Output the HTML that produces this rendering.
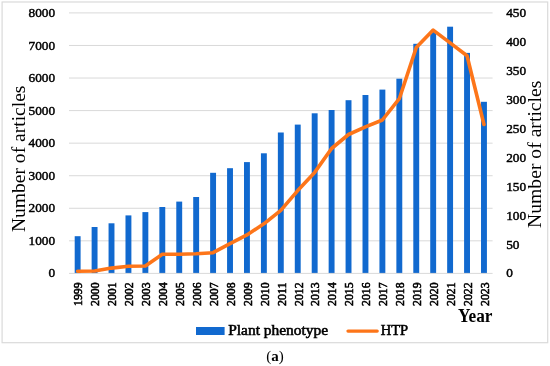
<!DOCTYPE html>
<html><head><meta charset="utf-8"><style>
html,body{margin:0;padding:0;background:#fff;}
body{width:550px;height:366px;overflow:hidden;}
svg{display:block;}
text{font-family:"Liberation Serif",serif;fill:#000;}
.tl{font-size:13.1px;stroke:#000;stroke-width:0.45px;}
.xl{font-size:12.6px;stroke:#000;stroke-width:0.58px;}
.yt{font-size:18.5px;}
.yr{font-size:18.5px;font-weight:bold;}
.lg{font-size:14px;stroke:#000;stroke-width:0.55px;}
.cap{font-size:15px;}
</style></head><body>
<svg width="550" height="366" viewBox="0 0 550 366">
<rect x="2.1" y="2.0" width="545.6" height="340.7" fill="none" stroke="#dadada" stroke-width="1.2"/>
<line x1="69.0" y1="240.84" x2="492.6" y2="240.84" stroke="#d9d9d9" stroke-width="1"/>
<line x1="69.0" y1="208.28" x2="492.6" y2="208.28" stroke="#d9d9d9" stroke-width="1"/>
<line x1="69.0" y1="175.72" x2="492.6" y2="175.72" stroke="#d9d9d9" stroke-width="1"/>
<line x1="69.0" y1="143.16" x2="492.6" y2="143.16" stroke="#d9d9d9" stroke-width="1"/>
<line x1="69.0" y1="110.60" x2="492.6" y2="110.60" stroke="#d9d9d9" stroke-width="1"/>
<line x1="69.0" y1="78.04" x2="492.6" y2="78.04" stroke="#d9d9d9" stroke-width="1"/>
<line x1="69.0" y1="45.48" x2="492.6" y2="45.48" stroke="#d9d9d9" stroke-width="1"/>
<line x1="69.0" y1="12.92" x2="492.6" y2="12.92" stroke="#d9d9d9" stroke-width="1"/>
<rect x="74.70" y="236.20" width="5.9" height="37.20" fill="#1169cf"/>
<rect x="91.63" y="227.00" width="5.9" height="46.40" fill="#1169cf"/>
<rect x="108.56" y="223.30" width="5.9" height="50.10" fill="#1169cf"/>
<rect x="125.49" y="215.40" width="5.9" height="58.00" fill="#1169cf"/>
<rect x="142.42" y="212.10" width="5.9" height="61.30" fill="#1169cf"/>
<rect x="159.35" y="207.00" width="5.9" height="66.40" fill="#1169cf"/>
<rect x="176.28" y="201.60" width="5.9" height="71.80" fill="#1169cf"/>
<rect x="193.21" y="197.00" width="5.9" height="76.40" fill="#1169cf"/>
<rect x="210.14" y="172.80" width="5.9" height="100.60" fill="#1169cf"/>
<rect x="227.07" y="168.20" width="5.9" height="105.20" fill="#1169cf"/>
<rect x="244.00" y="162.10" width="5.9" height="111.30" fill="#1169cf"/>
<rect x="260.93" y="153.30" width="5.9" height="120.10" fill="#1169cf"/>
<rect x="277.86" y="132.50" width="5.9" height="140.90" fill="#1169cf"/>
<rect x="294.79" y="124.60" width="5.9" height="148.80" fill="#1169cf"/>
<rect x="311.72" y="113.30" width="5.9" height="160.10" fill="#1169cf"/>
<rect x="328.65" y="110.00" width="5.9" height="163.40" fill="#1169cf"/>
<rect x="345.58" y="100.20" width="5.9" height="173.20" fill="#1169cf"/>
<rect x="362.51" y="95.00" width="5.9" height="178.40" fill="#1169cf"/>
<rect x="379.44" y="89.60" width="5.9" height="183.80" fill="#1169cf"/>
<rect x="396.37" y="78.70" width="5.9" height="194.70" fill="#1169cf"/>
<rect x="413.30" y="43.80" width="5.9" height="229.60" fill="#1169cf"/>
<rect x="430.23" y="32.00" width="5.9" height="241.40" fill="#1169cf"/>
<rect x="447.16" y="26.70" width="5.9" height="246.70" fill="#1169cf"/>
<rect x="464.09" y="52.90" width="5.9" height="220.50" fill="#1169cf"/>
<rect x="481.02" y="101.80" width="5.9" height="171.60" fill="#1169cf"/>
<line x1="69.0" y1="273.40" x2="492.6" y2="273.40" stroke="#d9d9d9" stroke-width="1"/>
<polyline points="77.65,271.30 94.58,271.00 111.51,268.10 128.44,266.20 145.37,266.00 162.30,254.30 179.23,254.30 196.16,253.80 213.09,252.70 230.02,243.60 246.95,234.90 263.88,223.80 280.81,210.30 297.74,190.60 314.67,172.40 331.60,148.50 348.53,134.50 365.46,126.80 382.39,120.00 399.32,98.70 416.25,47.60 433.18,30.10 450.11,42.90 467.04,55.80 483.97,124.50" fill="none" stroke="#fd7519" stroke-width="3.6" stroke-linejoin="round" stroke-linecap="round"/>
<text x="48.45" y="277.48" class="tl" textLength="6.65" lengthAdjust="spacingAndGlyphs">0</text>
<text x="28.50" y="244.92" class="tl" textLength="26.60" lengthAdjust="spacingAndGlyphs">1000</text>
<text x="28.50" y="212.36" class="tl" textLength="26.60" lengthAdjust="spacingAndGlyphs">2000</text>
<text x="28.50" y="179.80" class="tl" textLength="26.60" lengthAdjust="spacingAndGlyphs">3000</text>
<text x="28.50" y="147.24" class="tl" textLength="26.60" lengthAdjust="spacingAndGlyphs">4000</text>
<text x="28.50" y="114.68" class="tl" textLength="26.60" lengthAdjust="spacingAndGlyphs">5000</text>
<text x="28.50" y="82.12" class="tl" textLength="26.60" lengthAdjust="spacingAndGlyphs">6000</text>
<text x="28.50" y="49.56" class="tl" textLength="26.60" lengthAdjust="spacingAndGlyphs">7000</text>
<text x="28.50" y="17.00" class="tl" textLength="26.60" lengthAdjust="spacingAndGlyphs">8000</text>
<text x="506.2" y="277.48" class="tl" textLength="6.65" lengthAdjust="spacingAndGlyphs">0</text>
<text x="506.2" y="248.54" class="tl" textLength="13.30" lengthAdjust="spacingAndGlyphs">50</text>
<text x="506.2" y="219.60" class="tl" textLength="19.95" lengthAdjust="spacingAndGlyphs">100</text>
<text x="506.2" y="190.65" class="tl" textLength="19.95" lengthAdjust="spacingAndGlyphs">150</text>
<text x="506.2" y="161.71" class="tl" textLength="19.95" lengthAdjust="spacingAndGlyphs">200</text>
<text x="506.2" y="132.77" class="tl" textLength="19.95" lengthAdjust="spacingAndGlyphs">250</text>
<text x="506.2" y="103.83" class="tl" textLength="19.95" lengthAdjust="spacingAndGlyphs">300</text>
<text x="506.2" y="74.88" class="tl" textLength="19.95" lengthAdjust="spacingAndGlyphs">350</text>
<text x="506.2" y="45.94" class="tl" textLength="19.95" lengthAdjust="spacingAndGlyphs">400</text>
<text x="506.2" y="17.00" class="tl" textLength="19.95" lengthAdjust="spacingAndGlyphs">450</text>
<text transform="translate(82.45,305.9) rotate(-90)" class="xl" textLength="23.4" lengthAdjust="spacingAndGlyphs">1999</text>
<text transform="translate(99.38,305.9) rotate(-90)" class="xl" textLength="23.4" lengthAdjust="spacingAndGlyphs">2000</text>
<text transform="translate(116.31,305.9) rotate(-90)" class="xl" textLength="23.4" lengthAdjust="spacingAndGlyphs">2001</text>
<text transform="translate(133.24,305.9) rotate(-90)" class="xl" textLength="23.4" lengthAdjust="spacingAndGlyphs">2002</text>
<text transform="translate(150.17,305.9) rotate(-90)" class="xl" textLength="23.4" lengthAdjust="spacingAndGlyphs">2003</text>
<text transform="translate(167.10,305.9) rotate(-90)" class="xl" textLength="23.4" lengthAdjust="spacingAndGlyphs">2004</text>
<text transform="translate(184.03,305.9) rotate(-90)" class="xl" textLength="23.4" lengthAdjust="spacingAndGlyphs">2005</text>
<text transform="translate(200.96,305.9) rotate(-90)" class="xl" textLength="23.4" lengthAdjust="spacingAndGlyphs">2006</text>
<text transform="translate(217.89,305.9) rotate(-90)" class="xl" textLength="23.4" lengthAdjust="spacingAndGlyphs">2007</text>
<text transform="translate(234.82,305.9) rotate(-90)" class="xl" textLength="23.4" lengthAdjust="spacingAndGlyphs">2008</text>
<text transform="translate(251.75,305.9) rotate(-90)" class="xl" textLength="23.4" lengthAdjust="spacingAndGlyphs">2009</text>
<text transform="translate(268.68,305.9) rotate(-90)" class="xl" textLength="23.4" lengthAdjust="spacingAndGlyphs">2010</text>
<text transform="translate(285.61,305.9) rotate(-90)" class="xl" textLength="23.4" lengthAdjust="spacingAndGlyphs">2011</text>
<text transform="translate(302.54,305.9) rotate(-90)" class="xl" textLength="23.4" lengthAdjust="spacingAndGlyphs">2012</text>
<text transform="translate(319.47,305.9) rotate(-90)" class="xl" textLength="23.4" lengthAdjust="spacingAndGlyphs">2013</text>
<text transform="translate(336.40,305.9) rotate(-90)" class="xl" textLength="23.4" lengthAdjust="spacingAndGlyphs">2014</text>
<text transform="translate(353.33,305.9) rotate(-90)" class="xl" textLength="23.4" lengthAdjust="spacingAndGlyphs">2015</text>
<text transform="translate(370.26,305.9) rotate(-90)" class="xl" textLength="23.4" lengthAdjust="spacingAndGlyphs">2016</text>
<text transform="translate(387.19,305.9) rotate(-90)" class="xl" textLength="23.4" lengthAdjust="spacingAndGlyphs">2017</text>
<text transform="translate(404.12,305.9) rotate(-90)" class="xl" textLength="23.4" lengthAdjust="spacingAndGlyphs">2018</text>
<text transform="translate(421.05,305.9) rotate(-90)" class="xl" textLength="23.4" lengthAdjust="spacingAndGlyphs">2019</text>
<text transform="translate(437.98,305.9) rotate(-90)" class="xl" textLength="23.4" lengthAdjust="spacingAndGlyphs">2020</text>
<text transform="translate(454.91,305.9) rotate(-90)" class="xl" textLength="23.4" lengthAdjust="spacingAndGlyphs">2021</text>
<text transform="translate(471.84,305.9) rotate(-90)" class="xl" textLength="23.4" lengthAdjust="spacingAndGlyphs">2022</text>
<text transform="translate(488.77,305.9) rotate(-90)" class="xl" textLength="23.4" lengthAdjust="spacingAndGlyphs">2023</text>
<text transform="translate(25.0,158.8) rotate(-90)" class="yt" text-anchor="middle" textLength="146.5" lengthAdjust="spacingAndGlyphs">Number of articles</text>
<text transform="translate(540.9,154.3) rotate(-90)" class="yt" text-anchor="middle" textLength="147.4" lengthAdjust="spacingAndGlyphs">Number of articles</text>
<text x="458" y="321.7" class="yr" textLength="34.5" lengthAdjust="spacingAndGlyphs">Year</text>
<rect x="196" y="327" width="28.6" height="8" fill="#1169cf"/>
<text x="228.2" y="334.6" class="lg" textLength="100" lengthAdjust="spacingAndGlyphs">Plant phenotype</text>
<line x1="348" y1="331.1" x2="377.2" y2="331.1" stroke="#fd7519" stroke-width="3.3" stroke-linecap="round"/>
<text x="380.7" y="334.6" class="lg" textLength="27.4" lengthAdjust="spacingAndGlyphs">HTP</text>
<text x="275" y="360.6" class="cap" text-anchor="middle">(<tspan font-weight="bold">a</tspan>)</text>
</svg>
</body></html>
